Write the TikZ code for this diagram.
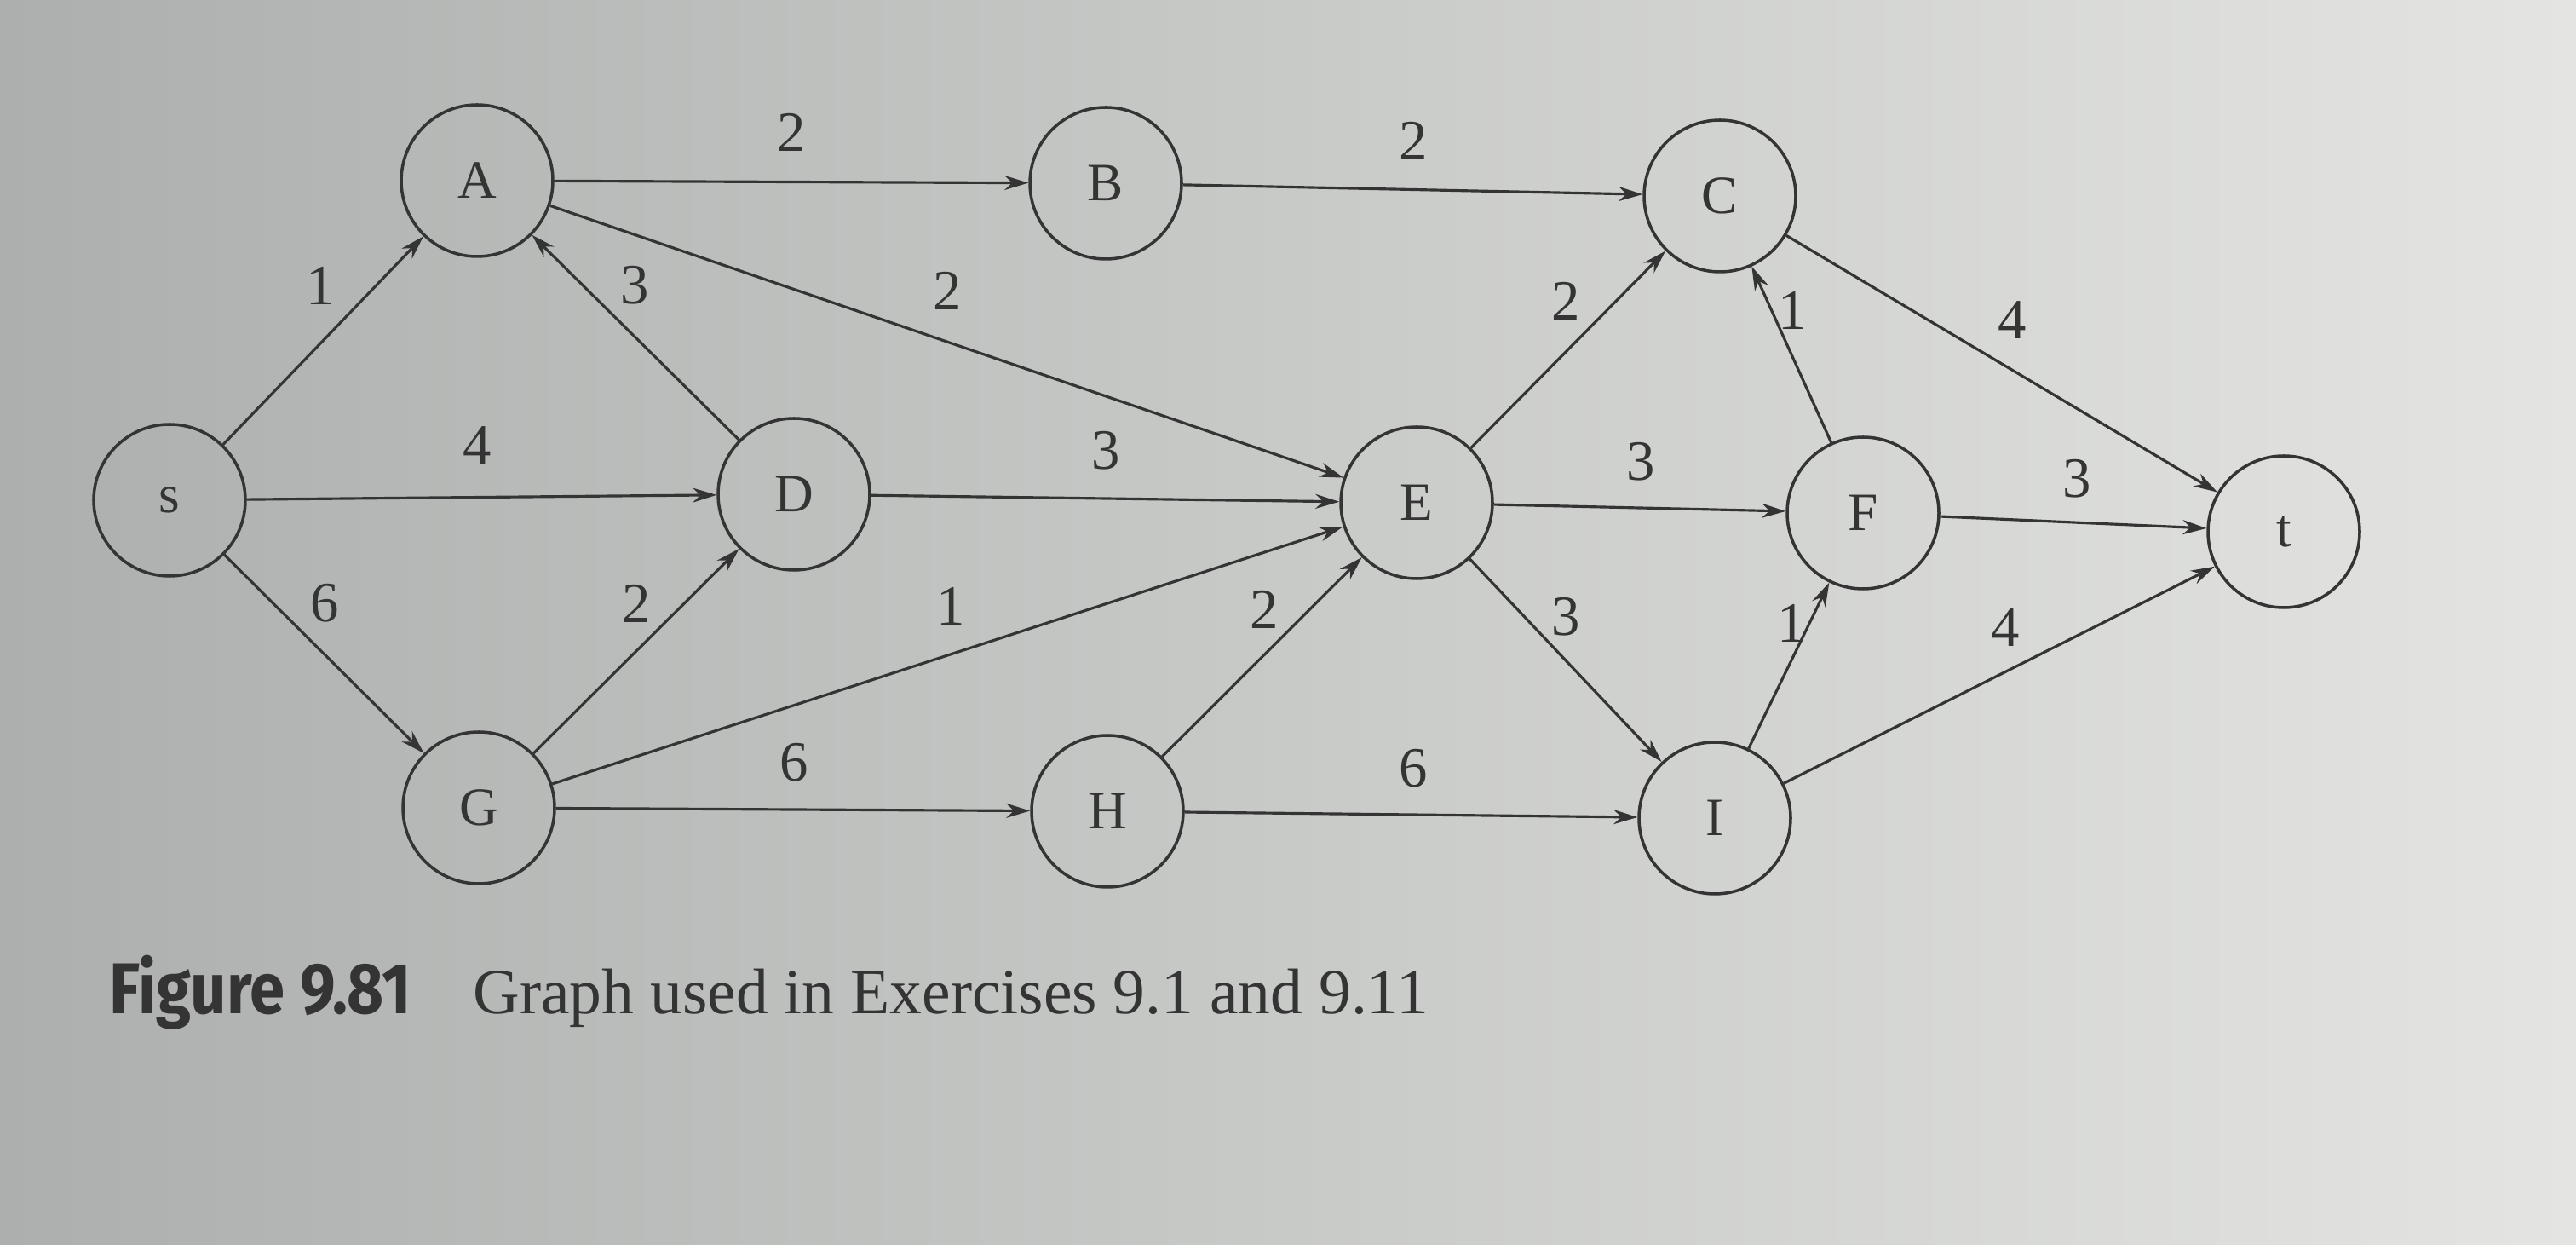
\documentclass[tikz,border=0pt]{standalone}
\usepackage{fontspec}
\setmainfont{Liberation Serif}
\newfontfamily\figfont[FakeStretch=0.88]{Fira Sans}
\usetikzlibrary{arrows.meta}
\definecolor{ink}{RGB}{52,52,52}
\definecolor{paperdark}{RGB}{172,175,173}
\definecolor{papermid}{RGB}{212,213,211}
\definecolor{paperlight}{RGB}{228,229,227}

\begin{document}
\begin{tikzpicture}[
  vertex/.style={circle,draw=ink,line width=1pt,minimum size=17.8mm,inner sep=0pt,text=ink,font=\fontsize{18}{20}\selectfont},
  weight/.style={inner sep=0pt,text=ink,font=\fontsize{19}{22}\selectfont},
  arc/.style={draw=ink,line width=0.9pt,-{Stealth[length=2.8mm,width=1.7mm,inset=0.9mm]}}]
\useasboundingbox (0,0) rectangle (302.4mm,146mm);
\shade[left color=paperdark,middle color=papermid,right color=paperlight] (0,0) rectangle (302.4mm,146mm);
% vertices
\node[vertex] (s) at (19.9mm,87.3mm) {s};
\node[vertex] (A) at (56mm,124.8mm) {A};
\node[vertex] (B) at (129.8mm,124.5mm) {B};
\node[vertex] (C) at (201.9mm,123mm) {C};
\node[vertex] (D) at (93.2mm,88mm) {D};
\node[vertex] (E) at (166.3mm,87mm) {E};
\node[vertex] (F) at (218.7mm,85.8mm) {F};
\node[vertex] (t) at (268.1mm,83.6mm) {t};
\node[vertex] (G) at (56.2mm,51.2mm) {G};
\node[vertex] (H) at (130mm,50.8mm) {H};
\node[vertex] (I) at (201.3mm,50mm) {I};
% arcs
\draw[arc] (s) -- (A);
\draw[arc] (s) -- (D);
\draw[arc] (s) -- (G);
\draw[arc] (A) -- (B);
\draw[arc] (A) -- (E);
\draw[arc] (B) -- (C);
\draw[arc] (D) -- (A);
\draw[arc] (D) -- (E);
\draw[arc] (G) -- (D);
\draw[arc] (G) -- (E);
\draw[arc] (G) -- (H);
\draw[arc] (H) -- (E);
\draw[arc] (H) -- (I);
\draw[arc] (E) -- (C);
\draw[arc] (E) -- (F);
\draw[arc] (E) -- (I);
\draw[arc] (C) -- (t);
\draw[arc] (F) -- (C);
\draw[arc] (F) -- (t);
\draw[arc] (I) -- (F);
\draw[arc] (I) -- (t);
% weights
\node[weight] (wAB) at (92.9mm,130.5mm) {2};
\node[weight] (wBC) at (165.9mm,129.5mm) {2};
\node[weight] (wsA) at (37.6mm,112.5mm) {1};
\node[weight] (wDA) at (74.5mm,112.5mm) {3};
\node[weight] (wAE) at (111.2mm,111.9mm) {2};
\node[weight] (wEC) at (183.8mm,110.7mm) {2};
\node[weight] (wFC) at (210.4mm,109.6mm) {1};
\node[weight] (wCt) at (236.2mm,108.4mm) {4};
\node[weight] (wsD) at (56mm,93.7mm) {4};
\node[weight] (wDE) at (129.8mm,93.1mm) {3};
\node[weight] (wEF) at (192.6mm,91.8mm) {3};
\node[weight] (wFt) at (243.8mm,89.8mm) {3};
\node[weight] (wsG) at (38.1mm,75.2mm) {6};
\node[weight] (wGD) at (74.7mm,75.2mm) {2};
\node[weight] (wGE) at (111.6mm,74.9mm) {1};
\node[weight] (wHE) at (148.4mm,74.5mm) {2};
\node[weight] (wEI) at (183.8mm,73.6mm) {3};
\node[weight] (wIF) at (210.3mm,72.9mm) {1};
\node[weight] (wIt) at (235.4mm,72.3mm) {4};
\node[weight] (wGH) at (93.2mm,56.5mm) {6};
\node[weight] (wHI) at (165.9mm,55.8mm) {6};
% caption
\node[anchor=base west,inner sep=0pt,text=ink,font=\fontsize{24}{26}\selectfont] (fig) at (12.8mm,27mm) {\figfont\bfseries Figure 9.81};
\node[anchor=base west,inner sep=0pt,text=ink,font=\fontsize{21.5}{24}\selectfont] (cap) at (55.5mm,27mm) {Graph used in Exercises 9.1 and 9.11};
\end{tikzpicture}
\end{document}
